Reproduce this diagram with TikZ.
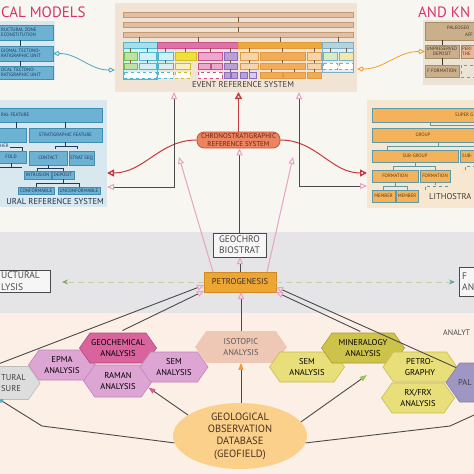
\documentclass[tikz,border=0pt]{standalone}
\usepackage{fontspec}
\setmainfont{PT Sans}
\usetikzlibrary{arrows.meta,shapes.symbols,shapes.geometric}
\definecolor{bgtop}{HTML}{F8F6F0}
\definecolor{bggray}{HTML}{E5E5E7}
\definecolor{bgpeach}{HTML}{FCEFE5}
\definecolor{stbg}{HTML}{D9E7EE}
\definecolor{stfill}{HTML}{6DB1D3}
\definecolor{stdraw}{HTML}{3E8DB3}
\definecolor{sttext}{HTML}{1E3A5C}
\definecolor{evbg}{HTML}{F2E4D4}
\definecolor{tanf}{HTML}{DFC0A6}
\definecolor{tand}{HTML}{C49A74}
\definecolor{libg}{HTML}{F8E7D0}
\definecolor{lifill}{HTML}{F4B35A}
\definecolor{lidraw}{HTML}{5E9AA6}
\definecolor{litext}{HTML}{5A3A12}
\definecolor{pabg}{HTML}{EBE3D5}
\definecolor{pafill}{HTML}{C9AF8B}
\definecolor{padraw}{HTML}{A88C66}
\definecolor{patext}{HTML}{4A3420}
\definecolor{salm}{HTML}{E9B898}
\definecolor{redc}{HTML}{C8383C}
\definecolor{pinkc}{HTML}{E7A3C4}
\definecolor{darkc}{HTML}{4A4A4A}
\definecolor{chfill}{HTML}{EC8462}
\definecolor{chdraw}{HTML}{C4553A}
\definecolor{chtext}{HTML}{6A2410}
\definecolor{petfill}{HTML}{EDA533}
\definecolor{petdraw}{HTML}{D08A20}
\definecolor{titlec}{HTML}{D6336C}
\definecolor{bluec}{HTML}{4AA8C8}
\definecolor{orangec}{HTML}{EFA030}
\definecolor{dashc}{HTML}{C8CFA6}
\definecolor{greenc}{HTML}{7FA86A}
\definecolor{tealc}{HTML}{5AA8A0}
\definecolor{pinkd}{HTML}{D0609A}
\definecolor{greenl}{HTML}{94C45A}
\definecolor{isod}{HTML}{EE9A3C}
\definecolor{hexpink}{HTML}{DCA5D3}
\definecolor{hexpinkd}{HTML}{C384B8}
\definecolor{geoch}{HTML}{D9649D}
\definecolor{geochd}{HTML}{B44A80}
\definecolor{isof}{HTML}{EFC8B5}
\definecolor{yelf}{HTML}{E8DE7A}
\definecolor{yeld}{HTML}{C8BC50}
\definecolor{minf}{HTML}{CEC34A}
\definecolor{mind}{HTML}{A89C30}
\definecolor{smf}{HTML}{DDDDDD}
\definecolor{palf}{HTML}{9E97C4}
\definecolor{dbf}{HTML}{FBD08A}
\definecolor{dbtext}{HTML}{4A3020}
\definecolor{evtext}{HTML}{3A3A3A}
\definecolor{evcyan}{HTML}{A9DDEA}
\definecolor{evcyand}{HTML}{4DB8D0}
\definecolor{evcyanl}{HTML}{D5EFF4}
\definecolor{evgreen}{HTML}{BFE2A4}
\definecolor{evgreend}{HTML}{6DBE4C}
\definecolor{evpink}{HTML}{E071A9}
\definecolor{evpinkd}{HTML}{C8508C}
\definecolor{evpinkl}{HTML}{EBA9D0}
\definecolor{evyel}{HTML}{EFE03C}
\definecolor{evyeld}{HTML}{CDBE1E}
\definecolor{evyell}{HTML}{F8F1BC}
\definecolor{evpur}{HTML}{B9A1D8}
\definecolor{evpurd}{HTML}{8A6DC0}
\definecolor{evpurl}{HTML}{D8CCEA}
\definecolor{evor}{HTML}{F2A93B}
\definecolor{evord}{HTML}{E09A40}
\definecolor{evorl}{HTML}{F7D5AC}
\definecolor{evorm}{HTML}{F2AC57}
\definecolor{evblue}{HTML}{B8D2DE}
\definecolor{evblued}{HTML}{7FAEC2}
\definecolor{evlg}{HTML}{D9ECC0}
\definecolor{evly}{HTML}{F6E9A8}
\definecolor{evline}{HTML}{7A5A3A}
\newcommand{\fsz}[2]{\fontsize{#1}{#2}\selectfont}
\newcommand{\bx}[7]{\node[#6,anchor=north west,minimum width={(#4)-(#2)},minimum height={(#5)-(#3)}] (#1) at (#2,#3) {#7};}
\newcommand{\rb}[5]{\draw[#1] (#2,#3) rectangle (#4,#5);}
\tikzset{
  rtip/.tip={Triangle[open,length=7pt,width=7pt,line width=1.4pt,color=redc]},
  ptip/.tip={Triangle[open,length=7pt,width=6pt,line width=1pt,color=pinkc]},
  btip/.tip={Kite[open,length=7pt,width=5pt,line width=0.9pt,color=bluec]},
  otip/.tip={Kite[open,length=7pt,width=5pt,line width=0.9pt,color=orangec]},
  gtip/.tip={Stealth[length=6pt,width=5pt,color=greenc]},
  ttip/.tip={Stealth[length=6pt,width=5pt,color=tealc]},
  pktip/.tip={Triangle[length=7pt,width=5pt,color=pinkd]},
  mtip/.tip={Triangle[length=7pt,width=5pt,color=greenl]},
  isotip/.tip={Triangle[length=7pt,width=5pt,color=isod]},
  ctip/.tip={Circle[length=4pt,color=bluec]},
  panel/.style={draw=none,inner sep=0,outer sep=0},
  stbox/.style={draw=stdraw,fill=stfill,line width=0.6pt,text=sttext,font=\fsz{4.8}{5.4},align=center,inner sep=0.5pt,outer sep=0},
  libox/.style={draw=lidraw,fill=lifill,line width=0.6pt,text=litext,font=\fsz{4.8}{5.4},align=center,inner sep=0.5pt,outer sep=0},
  pabox/.style={draw=padraw,fill=pafill,line width=0.6pt,text=patext,font=\fsz{4.8}{5.4},align=center,inner sep=0.5pt,outer sep=0},
  wbox/.style={draw=darkc,fill=white!65!bggray,line width=0.8pt,align=center,font=\fsz{9.5}{11},text=darkc,inner sep=0.5pt,outer sep=0},
  petbox/.style={draw=petdraw,fill=petfill,line width=0.6pt,font=\fsz{8.5}{10},text=black!80,inner sep=0.5pt,outer sep=0},
  chrbox/.style={rounded corners=7pt,draw=chdraw,fill=chfill,line width=0.8pt,minimum width=83pt,minimum height=16pt,align=center,font=\fsz{7}{7.4},text=chtext,inner sep=0.5pt},
  hexs/.style={shape=signal,signal to=west and east,signal pointer angle=110,align=center,inner sep=0.5pt,font=\fsz{8.5}{10.5},line width=0.6pt,minimum height=30pt},
  dbell/.style={ellipse,fill=dbf,draw=none,minimum width=134pt,minimum height=62pt,align=center,font=\fsz{10.5}{12.3},text=dbtext,inner sep=0},
  redline/.style={draw=redc,line width=1pt},
  darkline/.style={draw=darkc,line width=0.9pt},
  pinkline/.style={draw=pinkc,line width=1pt},
  dashln/.style={draw=dashc,line width=1pt,dash pattern=on 6pt off 4pt},
  stline/.style={draw=sttext,line width=0.6pt},
  liline/.style={draw=lidraw,line width=0.7pt},
  evl/.style={draw=evline,line width=0.4pt},
  ttl/.style={inner sep=0,font=\fsz{8.5}{9},text=evtext},
  lbl/.style={anchor=west,inner sep=0,align=left,font=\fsz{4.8}{5.4}},
  bigl/.style={anchor=west,inner sep=0,align=left,font=\fsz{9.5}{11.5},text=darkc},
}
\begin{document}
\begin{tikzpicture}[x=1pt,y=-1pt]
\useasboundingbox (0,0) rectangle (474,474);
\clip (0,0) rectangle (474,474);
\fill[bgtop] (0,0) rectangle (474,232);
\fill[bggray] (0,232) rectangle (474,313);
\fill[bgpeach] (0,313) rectangle (474,474);

% titles
\node[anchor=west,inner sep=0,text=titlec,font=\fsz{15}{15}] (tleft) at (1,12) {CAL MODELS};
\node[anchor=west,inner sep=0,text=titlec,font=\fsz{15}{15}] (tright) at (418,12) {AND KN};

% top-left panel
\bx{tlp}{0}{21}{55}{80}{panel,fill=stbg}{}
\bx{tl1}{-14}{25}{53}{40}{stbox}{}
\bx{tl2}{-14}{46}{53}{61}{stbox}{}
\bx{tl3}{-14}{66}{53}{79}{stbox}{}
\node[lbl,text=sttext] (tl1t) at (1,32.5) {RUCTURAL ZONE\\ECONSTITUTION};
\node[lbl,text=sttext] (tl2t) at (1,53.5) {GIONAL TECTONO-\\RATIGRAPHIC UNIT};
\node[lbl,text=sttext] (tl3t) at (1,72.5) {OCAL TECTONO-\\RATIGRAPHIC UNIT};
\draw[stline] (tl1.south -| 20,0) -- (tl2.north -| 20,0);
\draw[stline] (tl2.south -| 20,0) -- (tl3.north -| 20,0);

% event panel
\bx{eventp}{115}{3}{357}{92}{panel,fill=evbg}{}
\foreach \y in {12,22,32} {\rb{draw=tand,fill=tanf,line width=0.5pt}{123}{\y}{353}{\y+5}}
\draw[evl] (238,17)--(238,22) (238,27)--(238,32) (139,37)--(139,42) (198,37)--(198,42) (280,37)--(280,42) (338,37)--(338,42);
\rb{draw=evcyand,fill=evcyanl,line width=0.6pt}{123}{42}{157}{79}
\rb{draw=evblued,fill=evblue!40,line width=0.6pt}{322}{42}{353}{72}
\rb{draw=evcyand,fill=evcyan,line width=0.6pt}{123}{42}{157}{48}
\rb{draw=evpinkd,fill=evpink,line width=0.5pt}{157}{42}{238}{48}
\rb{draw=evord,fill=evor,line width=0.5pt}{238}{42}{321}{48}
\rb{draw=evblued,fill=evblue,line width=0.5pt}{322}{42}{353}{48}
\foreach \a/\b/\f/\d in {124/137/evgreen/evgreend,139/156/evcyanl/evcyand,158/173/evcyanl/evcyand,175/196/evyel/evyeld,198/222/evpinkl/evpinkd,224/237/evpur/evpurd,240/258/evorl/evord,260/305/evorm/evord,307/321/evorl/evord,323/337/evlg/evblued,339/353/evly/evblued}
  {\rb{draw=\d,fill=\f,line width=0.5pt}{\a}{52}{\b}{60}
   \draw[evl] ({(\a+\b)/2},48) -- ({(\a+\b)/2},52);}
\foreach \a/\b/\f/\d in {124/137/evgreen/evgreend,139/156/evcyanl/evcyand,158/173/evcyanl/evcyand,175/190/evyell/evyeld,198/210/evpinkl/evpinkd,211/222/evpinkl/evpinkd,224/237/evpur/evpurd,240/258/evorl/evord,260/305/evorm/evord,307/321/evorl/evord}
  {\rb{draw=\d,fill=\f,line width=0.5pt}{\a}{63}{\b}{69}}
\foreach \c in {130,147,165,230,249,282,314} {\draw[evl] (\c,60) -- (\c,63);}
\foreach \a/\b in {323/337,339/353} {\rb{draw=evblued,fill=white,dashed,line width=0.4pt}{\a}{63}{\b}{69}}
\foreach \a/\b/\d in {124/156/evcyand,158/173/evcyand,198/222/evpinkd,175/190/evyeld} {\rb{draw=\d,fill=white,dashed,line width=0.4pt}{\a}{72}{\b}{78}}
\foreach \a/\b/\f/\d in {224/230/evpur/evpurd,231/237/evpur/evpurd,240/247/evpur/evpurd,249/256/evpurl/evpurd,260/282/evorm/evord,283/305/evorm/evord,307/321/evorm/evord}
  {\rb{draw=\d,fill=\f,line width=0.5pt}{\a}{72}{\b}{78}}
\foreach \c in {230,249,271,294,314} {\draw[evl] (\c,69) -- (\c,72);}
\node[ttl] (evtitle) at (243,85) {EVENT REFERENCE SYSTEM};

% top-right panel
\bx{pap}{423}{20}{474}{85}{panel,fill=pabg}{}
\bx{paleog}{425}{22}{518}{40}{pabox}{}
\node[lbl,text=patext] (paleogt1) at (447,27.5) {PALEOGEO};
\node[lbl,text=patext] (paleogt2) at (465,34.5) {AFF};
\bx{unpres}{425}{45}{459}{58}{pabox}{UNPRESERVED\\DEPOSIT}
\bx{peri}{461}{45}{520}{58}{pabox,fill=salm}{}
\node[lbl,text=patext] (perit) at (462,51.5) {PERI\\THE};
\bx{fform}{425}{65}{459}{77}{pabox}{F FORMATION}
\draw[draw=padraw,dashed,line width=0.4pt] (461,65) rectangle (500,77);
\draw[draw=patext,line width=1pt] (unpres.north) -- (unpres.north |- paleog.south);
\draw[draw=patext,line width=1pt] (unpres.south) -- (fform.north);

% cross connectors top
\coordinate (evL) at (115,70);
\coordinate (evR) at (357,69);
\draw[draw=bluec,line width=0.8pt,btip-btip] (tl2.east) to[out=0,in=180] (evL);
\draw[draw=orangec,line width=0.8pt,otip-otip] (evR) to[out=0,in=180] (unpres.west);

% structural reference panel
\bx{stp}{0}{100}{107}{207}{panel,fill=stbg}{}
\bx{sf}{-92}{108}{102}{122}{stbox}{}
\node[lbl,text=sttext] (sft) at (1,115) {RAL FEATURE};
\bx{sfl}{-30}{128}{26}{142}{stbox}{}
\bx{stf}{29}{128}{102}{142}{stbox}{STRATIGRAPHIC FEATURE}
\node[lbl,text=sttext] (hert) at (0,146) {HER};
\bx{fold}{-4}{151}{26}{163}{stbox}{FOLD}
\bx{contact}{29}{151}{67}{165}{stbox}{CONTACT}
\bx{strseq}{69}{151}{94}{165}{stbox}{STRAT SEQ}
\bx{intr}{24}{171}{51}{179}{stbox}{INTRUSION}
\bx{depo}{52}{171}{74}{179}{stbox}{DEPOSIT}
\bx{conf}{18}{187}{54}{194}{stbox}{CONFORMABLE}
\bx{unconf}{58}{187}{100}{194}{stbox}{UNCONFORMABLE}
\draw[stline] (16,122)--(16,128) (65,122)--(65,128);
\draw[stline] (65,142)--(65,146) (55,149)--(55,146)--(77,146)--(77,149);
\draw[stline] (10,147)--(22,147)--(22,151);
\draw[stline] (11,163)--(11,167) (0,167)--(22,167);
\draw[stline] (48,165)--(48,168) (37,171)--(37,168)--(63,168)--(63,171);
\draw[stline] (63,179)--(63,183) (36,187)--(36,183)--(79,183)--(79,187);
\node[ttl,anchor=east,text=sttext!80!black] (sttitle) at (104,202) {URAL REFERENCE SYSTEM};

% lithostratigraphic panel
\bx{lip}{367}{100}{474}{208}{panel,fill=libg}{}
\bx{sgroup}{372}{108}{568}{122}{libox}{}
\node[lbl,text=litext] (sgroupt) at (455,115) {SUPER G};
\bx{group}{372}{128}{474}{142}{libox}{GROUP}
\bx{subg}{372}{150}{458}{162}{libox}{SUB-GROUP}
\bx{subg2}{460}{150}{520}{162}{libox}{}
\node[lbl,text=litext] (subg2t) at (462,156) {SUB-};
\bx{form1}{372}{170}{418}{182}{libox}{FORMATION}
\bx{form2}{420}{170}{450}{182}{libox}{FORMATION}
\bx{memb1}{372}{190}{395}{202}{libox}{MEMBER}
\bx{memb2}{396}{190}{418}{202}{libox}{MEMBER}
\draw[liline] (430,122)--(430,125)--(474,125);
\draw[liline] (438,142)--(438,146) (387,150)--(387,146)--(474,146);
\draw[liline] (415,162)--(415,166) (393,170)--(393,166)--(435,166)--(435,170);
\draw[liline,dashed] (465,170)--(465,166)--(474,166);
\draw[liline] (395,182)--(395,186) (383,190)--(383,186)--(407,186)--(407,190);
\draw[liline,dashed] (435,182)--(435,186) (425,190)--(425,186)--(447,186)--(447,190);
\node[ttl,anchor=west] (lititle) at (429,197) {LITHOSTRA};

% chrono
\node[chrbox] (chrono) at (238.5,140) {CHRONOSTRATIGRAPHIC\\REFERENCE SYSTEM};
\coordinate (evB1) at (174,92);
\coordinate (evB2) at (240,92);
\coordinate (evB3) at (299,92);
\coordinate (stR1) at (107,173);
\coordinate (stR2) at (107,187);
\coordinate (liL1) at (367,173);
\coordinate (liL2) at (367,186);
\coordinate (pkL) at (179,157);
\coordinate (pkR) at (293,157);

% middle nodes
\bx{geo}{213}{233}{266}{257}{wbox}{GEOCHRO\\BIOSTRAT}
\bx{petro}{204}{272}{276}{292}{petbox}{PETROGENESIS}
\bx{stan}{-20}{270}{50}{292}{wbox}{}
\node[bigl] (stant) at (1,281) {UCTURAL\\LYSIS};
\bx{facies}{459}{267}{520}{296}{wbox}{}
\node[bigl] (faciest) at (462,281.5) {F\\AN};

% red connectors
\draw[redline,-rtip] (chrono.north) -- (chrono.north |- evB2);
\draw[redline,-rtip] (chrono.west) to[out=180,in=0] (stR1);
\draw[redline,-rtip] (chrono.east) to[out=0,in=180] (liL1);
% dark with pink tips
\draw[darkline,ptip-ptip] (evB1) |- (stR2);
\draw[darkline,ptip-ptip] (evB3) |- (liL2);
\draw[pinkline,-ptip] ([xshift=9pt]petro.north west) -- (pkL);
\draw[pinkline,-ptip] ([xshift=-9pt]petro.north east) -- (pkR);
\draw[darkline,-ptip] (geo.north) -- (geo.north |- chrono.south);
\draw[darkline,-ptip] (petro.north) -- (petro.north |- geo.south);
% dashed
\draw[dashln,-gtip,shorten >=12pt] (petro.west) -- (stan.east |- petro.west);
\draw[dashln,-ttip,shorten >=4pt] (petro.east) -- (facies.west |- petro.east);

% hexagons
\node[hexs,fill=smf,draw=smf!85!black,minimum width=80pt,minimum height=33pt] (smeas) at (0,383) {};
\node[lbl,font=\fsz{8.5}{10.5},text=black!75] (smeast) at (1,383) {TURAL\\SURE};
\node[hexs,fill=hexpink,draw=hexpinkd,minimum width=67pt] (epma) at (62,365) {EPMA\\ANALYSIS};
\node[hexs,fill=geoch,draw=geochd,minimum width=77pt] (geochem) at (118,348) {GEOCHEMICAL\\ANALYSIS};
\node[hexs,fill=hexpink,draw=hexpinkd,minimum width=69pt,minimum height=32pt] (raman) at (118,381) {RAMAN\\ANALYSIS};
\node[hexs,fill=hexpink,draw=hexpinkd,minimum width=68pt] (sem1) at (174,367) {SEM\\ANALYSIS};
\node[hexs,fill=isof,draw=isof,minimum width=91pt,minimum height=31pt,text=black!65] (iso) at (241,347) {ISOTOPIC\\ANALYSIS};
\node[hexs,fill=yelf,draw=yeld,minimum width=75pt] (sem2) at (307,367) {SEM\\ANALYSIS};
\node[hexs,fill=minf,draw=mind,minimum width=83pt] (mineral) at (363,348) {MINERALOGY\\ANALYSIS};
\node[hexs,fill=yelf,draw=yeld,minimum width=74pt] (petrog) at (420,367) {PETRO-\\GRAPHY};
\node[hexs,fill=yelf,draw=yeld,minimum width=73pt] (rx) at (418,398) {RX/FRX\\ANALYSIS};
\node[hexs,fill=palf,draw=palf!85!black,minimum width=112pt,minimum height=39pt] (paleo) at (502,382.5) {};
\node[lbl,font=\fsz{8.5}{10.5},text=black!75] (paleot) at (458,382.5) {PAL};
\node[anchor=west,inner sep=0,font=\fsz{8}{9},text=darkc] (anlab) at (443,333) {ANALYT};

% database
\node[dbell] (db) at (240,436) {GEOLOGICAL\\OBSERVATION\\DATABASE\\(GEOFIELD)};
\coordinate (lA) at (-20,371);
\coordinate (mnB) at (367,375);

% petrogenesis lower connectors
\draw[darkline,ptip-] (petro.185) -- (lA);
\draw[darkline,ptip-,shorten >=5pt] (petro.194) -- (geochem.north);
\draw[darkline,ptip-] (petro.352) -- (paleo.162);
\draw[darkline,ptip-,shorten >=3pt] (petro.south east) -- (mineral.north);
\draw[darkline,-ptip] (iso.north) -- (iso.north |- petro.south);

% database connectors
\draw[darkline,-pktip] (db.158) -- (raman.-12);
\draw[darkline,-mtip] (db.13) -- (mnB);
\draw[darkline,-isotip] (iso.south |- db.north) -- (iso.south);
\draw[darkline,-ctip] (db.186) -- (42,426) -- (smeas.south);
\draw[darkline] (db.354) -- (450,426) -- (paleo.south);
\end{tikzpicture}
\end{document}
